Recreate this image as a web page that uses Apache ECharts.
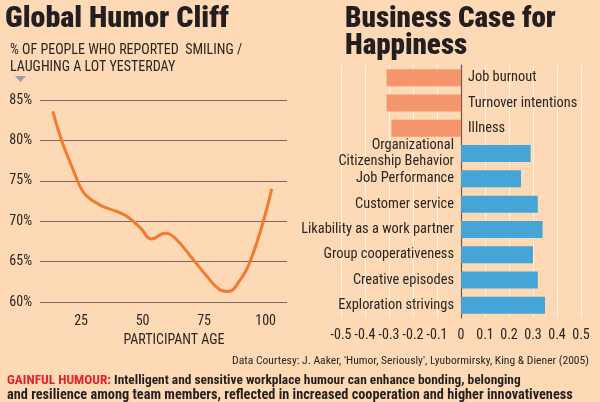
<!DOCTYPE html>
<html><head><meta charset="utf-8">
<script src="https://cdn.jsdelivr.net/npm/echarts@6/dist/echarts.min.js"></script>
<style>html,body{margin:0;padding:0;background:#fdd9b5}#c{width:600px;height:402px}</style>
</head><body><div id="c"></div>
<script>
var ages = [13.5, 17.2, 21.2, 24.6, 27.3, 32.7, 39.5, 43.6, 49, 53.7, 59.1, 63.2, 70.7, 76.1, 81.5, 84.6, 89.6, 93.7, 99.1, 102.5];
var smiling = [83.6, 79.9, 76.8, 74.3, 73.1, 72.0, 71.2, 70.6, 69.2, 67.8, 68.5, 67.9, 65.2, 63.2, 61.5, 61.3, 62.7, 65.0, 70.0, 74.0];
var ageTicks = [25, 50, 75, 100];
var factors = ['Job burnout', 'Turnover intentions', 'Illness', 'Organizational\nCitizenship Behavior', 'Job Performance', 'Customer service', 'Likability as a work partner', 'Group cooperativeness', 'Creative episodes', 'Exploration strivings'];
var effects = [-0.31, -0.31, -0.29, 0.29, 0.25, 0.32, 0.34, 0.30, 0.32, 0.35];

var NF = '"Liberation Sans Narrow", "Roboto Condensed", "Arial Narrow", Roboto, sans-serif';
var chart = echarts.init(document.getElementById('c'));
var lineData = ages.map(function (a, i) { return [a, smiling[i]]; });
var barData = effects.map(function (v) {
  return { value: v, itemStyle: { color: v < 0 ? '#f5956b' : '#45a5d6' },
    label: { position: v < 0 ? 'right' : 'left', align: v < 0 ? 'left' : 'right' } };
});
chart.setOption({
  backgroundColor: '#fdd9b5',
  animation: false,
  grid: [
    { left: 40, top: 100, width: 247, height: 202 },
    { left: 341, top: 65, width: 240, height: 253 }
  ],
  xAxis: [
    { gridIndex: 0, type: 'value', min: 8.3, max: 108.7,
      axisLine: { show: false }, axisTick: { show: false }, splitLine: { show: false },
      axisLabel: { customValues: ageTicks, color: '#2a2422', fontSize: 14, fontFamily: NF, margin: 12 } },
    { gridIndex: 1, type: 'value', min: -0.5, max: 0.5, interval: 0.1,
      axisLine: { show: false }, axisTick: { show: false },
      splitLine: { show: true, lineStyle: { color: '#fff3e6', width: 1 } },
      axisLabel: { color: '#2a2422', fontSize: 14, fontFamily: NF, margin: 10,
        formatter: function (v) { return Math.abs(v) < 1e-9 ? '0' : (Math.round(v * 10) / 10).toString(); } } }
  ],
  yAxis: [
    { gridIndex: 0, type: 'value', min: 60, max: 85, interval: 5,
      axisLine: { show: false }, axisTick: { show: false },
      splitLine: { lineStyle: { color: '#7a6a62', width: 1 } },
      axisLabel: { formatter: '{value}%', color: '#2a2422', fontSize: 14, fontFamily: NF, margin: 8 } },
    { gridIndex: 1, type: 'category', data: factors, inverse: true,
      axisLine: { show: true, onZero: true, lineStyle: { color: '#6a5a52', width: 1.2 } },
      axisTick: { show: false }, axisLabel: { show: false }, splitLine: { show: false } }
  ],
  series: [
    { type: 'line', xAxisIndex: 0, yAxisIndex: 0, data: lineData, smooth: 0.45, showSymbol: false,
      lineStyle: { color: '#f37a2e', width: 3 }, z: 3 },
    { type: 'bar', xAxisIndex: 1, yAxisIndex: 1, data: barData, barWidth: 17,
      label: { show: true, distance: 7, color: '#2a2422', fontSize: 14.4, fontFamily: NF, lineHeight: 16,
        formatter: function (p) { return p.name; } } }
  ],
  graphic: [
    { type: 'text', left: 5, top: 4, style: { text: 'Global Humor Cliff', fontSize: 30, fontWeight: 900, fontFamily: NF, fill: '#231f20' } },
    { type: 'text', left: 10, top: 42, style: { text: '% OF PEOPLE WHO REPORTED  SMILING /\nLAUGHING A LOT YESTERDAY', fontSize: 14, lineHeight: 17, fontFamily: NF, fill: '#2a2422' } },
    { type: 'polygon', shape: { points: [[15, 76], [26, 76], [20.5, 82]] }, style: { fill: '#9b9aae' } },
    { type: 'text', x: 174, y: 340, style: { text: 'PARTICIPANT AGE', fontSize: 14, fontFamily: NF, fill: '#2a2422', align: 'center', verticalAlign: 'middle' } },
    { type: 'text', left: 345, top: 5, style: { text: 'Business Case for\nHappiness', fontSize: 29, lineHeight: 27, fontWeight: 900, fontFamily: NF, fill: '#231f20' } },
    { type: 'text', x: 589, y: 361, style: { text: "Data Courtesy: J. Aaker, 'Humor, Seriously', Lyubormirsky, King & Diener (2005)", fontSize: 11.6, fontFamily: NF, fill: '#2a2422', align: 'right', verticalAlign: 'middle' } },
    { type: 'text', x: 7, y: 381, style: { text: '{r|GAINFUL HUMOUR:} Intelligent and sensitive workplace humour can enhance bonding, belonging',
      fontSize: 13.4, fontWeight: 'bold', fontFamily: NF, fill: '#231f20', verticalAlign: 'middle',
      rich: { r: { fill: '#e3232b', fontSize: 13.4, fontWeight: 'bold', fontFamily: NF } } } },
    { type: 'text', x: 7, y: 395, style: { text: 'and resilience among team members, reflected in increased cooperation and higher innovativeness',
      fontSize: 14.3, fontWeight: 'bold', fontFamily: NF, fill: '#231f20', verticalAlign: 'middle' } }
  ]
});
</script></body></html>
